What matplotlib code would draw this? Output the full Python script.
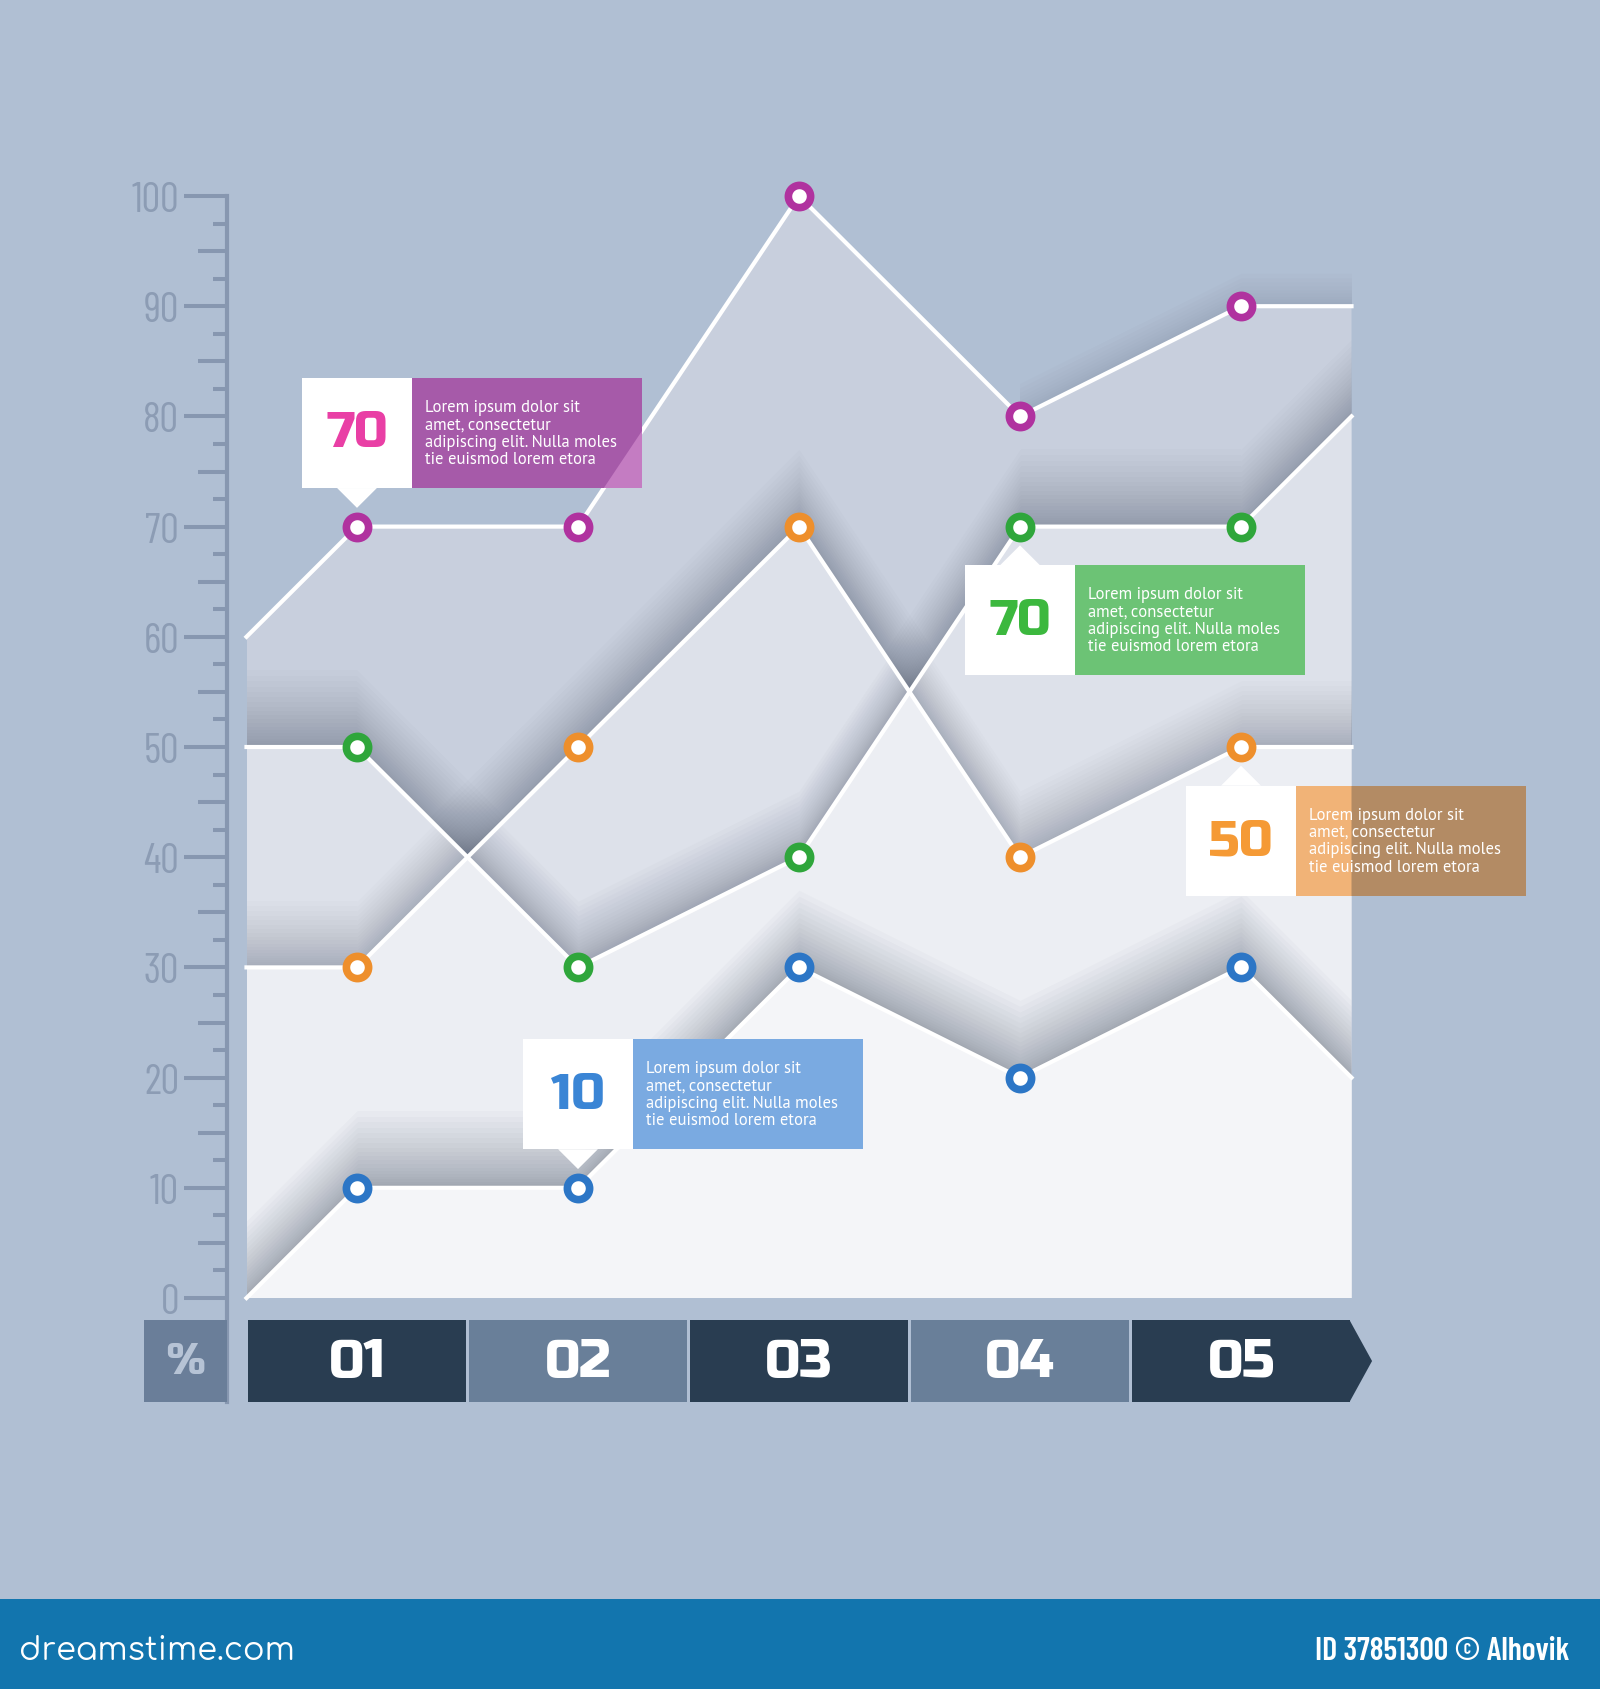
import numpy as np
import matplotlib.pyplot as plt
from matplotlib.patches import Rectangle, Polygon
from matplotlib.ticker import MultipleLocator

# values (x: left edge, periods 01..05, right edge)
xs = [0.5, 1, 2, 3, 4, 5, 5.5]
purple = [60, 70, 70, 100, 80, 90, 90]
green = [50, 50, 30, 40, 70, 70, 80]
orange = [30, 30, 50, 70, 40, 50, 50]
blue = [0, 10, 10, 30, 20, 30, 20]
cats = [1, 2, 3, 4, 5]
cat_labels = ['01', '02', '03', '04', '05']
yticks = [0, 10, 20, 30, 40, 50, 60, 70, 80, 90, 100]
# callouts: big number, period, value
call_labels = ['70', '10', '70', '50']
call_x = [1, 2, 4, 5]
call_y = [70, 10, 70, 50]
lorem = 'Lorem ipsum dolor sit\namet, consectetur\nadipiscing elit. Nulla moles\ntie euismod lorem etora'

bg = '#b0bfd3'
BLOCK = ['Russo One', 'Anton', 'Bebas Neue', 'Oswald', 'DejaVu Sans']
THIN = ['Barlow Condensed', 'Roboto Condensed', 'Oswald', 'DejaVu Sans']
BODY = ['PT Sans', 'Open Sans', 'DejaVu Sans']

fig = plt.figure(figsize=(16, 16.9), dpi=100, facecolor=bg)
ax = fig.add_axes([246.5/1600, 391/1690, 1105/1600, 1102/1690])
ax.set_xlim(0.5, 5.5)
ax.set_ylim(0, 100)
ax.patch.set_visible(False)


def area(vals, color, z):
    pts = list(zip(xs, vals)) + [(xs[-1], 0), (xs[0], 0)]
    p = Polygon(pts, closed=True, fc=color, ec='none', zorder=z)
    ax.add_patch(p)
    return p


def shadow(vals, depth, clip, z, n=22, a=0.022, col='#4a5569'):
    v = np.array(vals, float)
    for k in range(1, n + 1):
        d = depth * (k / n) ** 1.7
        pc = ax.fill_between(xs, v, v + d, color=col, alpha=a, lw=0, zorder=z)
        pc.set_clip_path(clip)


# layered "paper" areas with soft shadows
top_clip = Rectangle((4, 0), 1.5, 100, transform=ax.transData)
shadow(purple, 3, top_clip, 0.9, n=12, a=0.02)
p_area = area(purple, '#c8cfdd', 1)
shadow(green, 7, p_area, 2)
shadow(orange, 7, p_area, 2)
g_area = area(green, '#dde1ea', 3)
o_area = area(orange, '#dde1ea', 3)
shadow(green, 6, o_area, 4)
shadow(orange, 6, g_area, 4, a=0.018)
low = area(green, '#eceef3', 5)
low.set_clip_path(o_area)
shadow(blue, 7, g_area, 6, a=0.026)
area(blue, '#f4f5f8', 7)

ring_cols = ['#b0329f', '#2fa63b', '#ee8f2c', '#2c76c6']
for vals, col in zip([purple, green, orange, blue], ring_cols):
    ax.plot(xs, vals, color='white', lw=3, zorder=8, solid_joinstyle='miter', clip_on=False)
    ax.plot(cats, vals[1:6], ls='none', marker='o', ms=16, mew=5.5, mfc='white',
            mec=col, zorder=9, clip_on=False)

# callouts
num_cols = ['#e93fa5', '#3a85d5', '#3cb83e', '#f59a35']
box_out = ['#a65aa9', '#7aaae1', '#6cc375', '#b38b64']
box_in = ['#c47cc2', '#7aaae1', '#6cc375', '#f1b377']
sides = ['above', 'above', 'below', 'below']
w, h, gap, cw = 0.5, 10, 3.5, 1.04
for lab, cx, cy, nc, bo, bi, side in zip(call_labels, call_x, call_y, num_cols,
                                         box_out, box_in, sides):
    if side == 'above':
        y0 = cy + gap
        tip = [(cx - 0.09, y0), (cx + 0.09, y0), (cx, y0 - 1.8)]
    else:
        y0 = cy - gap - h
        tip = [(cx - 0.09, y0 + h), (cx + 0.09, y0 + h), (cx, y0 + h + 1.8)]
    ax.add_patch(Rectangle((cx - w/2, y0), w, h, fc='white', ec='none', zorder=10, clip_on=False))
    ax.add_patch(Polygon(tip, closed=True, fc='white', ec='none', zorder=10, clip_on=False))
    ax.add_patch(Rectangle((cx + w/2, y0), cw, h, fc=bo, ec='none', zorder=10, clip_on=False))
    inner = Rectangle((cx + w/2, y0), cw, h, fc=bi, ec='none', zorder=10.5)
    ax.add_patch(inner)
    inner.set_clip_path(p_area)
    ax.text(cx, y0 + h/2, lab, ha='center', va='center', fontsize=36,
            color=nc, family=BLOCK, zorder=11)
    ax.text(cx + w/2 + 0.058, y0 + h/2, lorem, ha='left', va='center', fontsize=12,
            color='white', family=BODY, linespacing=1.12, zorder=11, clip_on=False)

# y axis ruler
axis_col = '#8797b0'
for s in ['top', 'right', 'bottom']:
    ax.spines[s].set_visible(False)
ax.spines['left'].set_position(('outward', 14))
ax.spines['left'].set_color(axis_col)
ax.spines['left'].set_linewidth(3)
ax.spines['left'].set_bounds(-9.44, 100)
ax.set_xticks([])
ax.set_yticks(yticks)
ax.yaxis.set_minor_locator(MultipleLocator(5))
ax.tick_params(axis='y', which='major', length=31, width=2.9, color=axis_col, pad=3.6,
               labelsize=30, labelcolor='#8c9cb4')
ax.tick_params(axis='y', which='minor', length=21, width=2.9, color=axis_col)
for t in ax.get_yticklabels():
    t.set_family(THIN)
spine_x = 0.5 - 19.5/221
ax.hlines(np.arange(2.5, 100, 5), spine_x - 0.063, spine_x, color=axis_col, lw=2.9,
          clip_on=False)

# period bar
bar_cols = ['#293d51', '#697f99', '#293d51', '#697f99', '#293d51']
ax.bar(cats, -7.44, bottom=-2.0, width=0.982, color=bar_cols, clip_on=False, zorder=3)
ax.add_patch(Polygon([(cats[-1] + 0.491, -2.0), (cats[-1] + 0.593, -5.72),
                      (cats[-1] + 0.491, -9.44)], closed=True, fc=bar_cols[-1],
                     ec='none', clip_on=False, zorder=3))
for c, lab in zip(cats, cat_labels):
    ax.text(c, -5.72, lab, ha='center', va='center', fontsize=38,
            color='white', family=BLOCK, clip_on=False, zorder=4)
ax.add_patch(Rectangle((0.036, -9.44), 0.376, 7.44, fc='#6a7e99', ec='none',
                       clip_on=False, zorder=3))
ax.text(0.224, -5.72, '%', ha='center', va='center', fontsize=32,
        color='#b6c3d5', family=BLOCK, clip_on=False, zorder=4)

# bottom banner
fig.add_artist(Rectangle((0, 0), 1, 90/1690, transform=fig.transFigure,
                         fc='#1275ae', ec='none'))
fig.text(0.012, 38/1690, 'dreamstime.com', color='white', fontsize=23,
         va='center', ha='left', family=['Comfortaa', 'Quicksand', 'DejaVu Sans'])
fig.text(0.981, 38/1690, 'ID 37851300 \u00a9 Alhovik', color='white', fontsize=23,
         weight='semibold', va='center', ha='right', family=THIN)

fig.savefig('out.png', dpi=100, facecolor=bg)
